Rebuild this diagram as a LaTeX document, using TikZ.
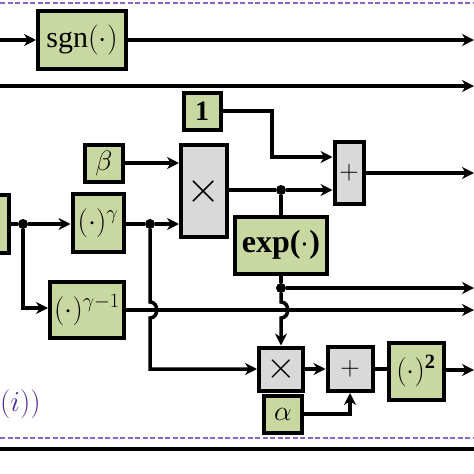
\RequirePackage{fix-cm}
\documentclass[tikz,border=0pt]{standalone}
\usepackage{fontspec}
\usepackage{amsmath}
\setmainfont{Liberation Serif}
\usetikzlibrary{arrows.meta}
\definecolor{boxgreen}{RGB}{200,216,160}
\definecolor{boxgray}{RGB}{217,217,217}
\definecolor{dashpurple}{RGB}{140,100,200}
\definecolor{txtpurple}{RGB}{80,40,150}
\begin{document}
\begin{tikzpicture}[x=1pt,y=-1pt,
  gbox/.style={draw=black,line width=4pt,fill=boxgreen,inner sep=0pt},
  kbox/.style={draw=black,line width=4pt,fill=boxgray,inner sep=0pt},
  conn/.style={line width=3.5pt},
  arr/.style={conn,-{Stealth[length=12pt,width=12pt]}},
  dot/.style={circle,fill=black,inner sep=0pt,minimum size=10pt},
  big/.style={font=\fontsize{29}{31}\selectfont},
  sepline/.style={draw=dashpurple,line width=2.5pt,dash pattern=on 5pt off 2.5pt}]
\useasboundingbox (0,0) rectangle (474,474);
\clip (0,0) rectangle (474,474);
% separators
\coordinate (tl) at (0,3); \coordinate (tr) at (474,3);
\draw[sepline] (tl) -- (tr);
\coordinate (bl) at (0,438); \coordinate (br) at (474,438);
\draw[sepline] (bl) -- (br);
\coordinate (kl) at (0,449); \coordinate (kr) at (474,449);
\draw[line width=3.5pt] (kl) -- (kr);
% nodes
\node[gbox,minimum width=88pt,minimum height=58pt,font=\fontsize{30}{32}\selectfont] (sgn) at (82,40) {sgn$(\cdot)$};
\node[gbox,minimum width=37pt,minimum height=37pt,font=\fontsize{28}{30}\selectfont] (one) at (202,111) {\textbf{1}};
\node[gbox,minimum width=38pt,minimum height=37pt,font=\fontsize{28}{30}\selectfont] (beta) at (104,163) {$\beta$};
\node[kbox,minimum width=46pt,minimum height=92pt] (mul1) at (204,191) {\fontsize{44}{44}\selectfont$\times$};
\node[kbox,minimum width=29pt,minimum height=62pt] (plus1) at (349,173) {\fontsize{27}{27}\selectfont$+$};
\node[gbox,minimum width=92pt,minimum height=57pt,font=\fontsize{32}{34}\selectfont] (exp) at (281,245) {\textbf{exp(}$\cdot$\textbf{)}};
\node[gbox,minimum width=22pt,minimum height=58pt] (L) at (-2,224) {};
\node[gbox,minimum width=51pt,minimum height=58pt,big] (gam) at (98,223) {$(\cdot)^{\gamma}$};
\node[gbox,minimum width=74pt,minimum height=56pt,big] (gam1) at (87,310) {$(\cdot)^{\gamma-1}$};
\node[kbox,minimum width=44pt,minimum height=43pt] (mul2) at (281,369) {\fontsize{38}{38}\selectfont$\times$};
\node[kbox,minimum width=45pt,minimum height=44pt] (plus2) at (350,369) {\fontsize{27}{27}\selectfont$+$};
\node[gbox,minimum width=55pt,minimum height=57pt,big] (sq) at (416,371) {$(\cdot)^{\mathbf{2}}$};
\node[gbox,minimum width=38pt,minimum height=37pt,font=\fontsize{28}{30}\selectfont] (alpha) at (283,414) {$\alpha$};
\node[anchor=west,inner sep=0pt,text=txtpurple,big] (lab) at (0,404) {$(i))$};
% coordinates
\coordinate (in1) at (0,40); \coordinate (out1) at (474,40);
\coordinate (in2) at (0,86); \coordinate (out2) at (474,86);
\coordinate (out3) at (474,173);
\coordinate (out4) at (474,288);
\coordinate (out5) at (474,310);
\coordinate (out6) at (474,370);
\node[dot] (d1) at (281,190) {};
\node[dot] (d2) at (23,224) {};
\node[dot] (d3) at (150,224) {};
\node[dot] (d4) at (281,288) {};
% connectors
\draw[arr] (in1) -- (sgn.west);
\draw[arr] (sgn.east) -- (out1);
\draw[arr] (in2) -- (out2);
\draw[arr] (one.east) -| (272,157) -- (plus1.west |- 0,157);
\draw[arr] (beta.east) -- (mul1.west |- beta.east);
\draw[conn] (mul1.east |- d1) -- (d1);
\draw[arr] (d1) -- (plus1.west |- d1);
\draw[conn] (d1) -- (exp.north);
\draw[arr] (plus1.east) -- (out3);
\draw[conn] (L.east |- d2) -- (d2);
\draw[arr] (d2) -- (gam.west |- d2);
\draw[conn] (gam.east |- d3) -- (d3);
\draw[arr] (d3) -- (mul1.west |- d3);
\draw[arr] (d2) |- (gam1.west |- 0,308);
\draw[arr] (gam1.east |- out5) -- (out5);
\draw[arr] (d3) -- (150,302) .. controls (159,302) and (159,318) .. (150,318) |- (mul2.west);
\draw[conn] (exp.south) -- (d4);
\draw[arr] (d4) -- (out4);
\draw[arr] (d4) -- (281,302) .. controls (290,302) and (290,318) .. (281,318) -- (mul2.north);
\draw[arr] (mul2.east) -- (plus2.west);
\draw[conn] (plus2.east) -- (sq.west |- plus2.east);
\draw[arr] (sq.east |- out6) -- (out6);
\draw[arr] (alpha.east) -| (plus2.south);
\end{tikzpicture}
\end{document}
